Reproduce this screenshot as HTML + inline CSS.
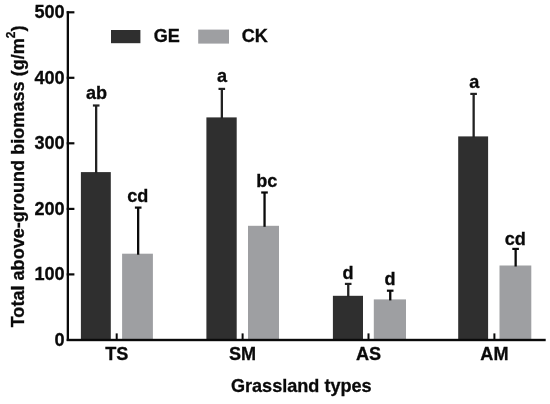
<!DOCTYPE html>
<html lang="en"><head><meta charset="utf-8"><title>Total above-ground biomass by grassland type</title>
<style>
html,body{margin:0;padding:0;background:#fff;}
body{width:550px;height:404px;overflow:hidden;}
svg{display:block;}
text{font-family:"Liberation Sans",Arial,Helvetica,sans-serif;font-weight:bold;fill:#0a0a0a;stroke:#0a0a0a;stroke-width:0.3px;}
</style></head><body>
<svg width="550" height="404" viewBox="0 0 550 404">
<rect x="0" y="0" width="550" height="404" fill="#ffffff"/>
<rect x="80.9" y="172.1" width="29.9" height="167.8" fill="#2f2f2f"/>
<rect x="95.0" y="105.5" width="2.3" height="67.6" fill="#222222"/>
<rect x="92.9" y="104.4" width="6.6" height="2.2" fill="#222222"/>
<text x="96.6" y="99.1" font-size="18.1" text-anchor="middle">ab</text>
<rect x="122.1" y="253.7" width="30.8" height="86.2" fill="#9e9fa2"/>
<rect x="137.0" y="207.6" width="2.3" height="47.1" fill="#0a0a0a"/>
<rect x="134.9" y="206.5" width="6.6" height="2.2" fill="#0a0a0a"/>
<text x="137.8" y="202.3" font-size="18.1" text-anchor="middle">cd</text>
<rect x="206.4" y="117.4" width="30.3" height="222.5" fill="#2f2f2f"/>
<rect x="220.7" y="88.9" width="2.3" height="29.5" fill="#222222"/>
<rect x="218.5" y="87.8" width="6.6" height="2.2" fill="#222222"/>
<text x="222.0" y="81.8" font-size="18.1" text-anchor="middle">a</text>
<rect x="248.0" y="225.8" width="31.0" height="114.1" fill="#9e9fa2"/>
<rect x="263.4" y="192.5" width="2.3" height="34.3" fill="#0a0a0a"/>
<rect x="261.2" y="191.4" width="6.6" height="2.2" fill="#0a0a0a"/>
<text x="266.7" y="186.6" font-size="18.1" text-anchor="middle">bc</text>
<rect x="332.9" y="295.8" width="30.1" height="44.1" fill="#2f2f2f"/>
<rect x="347.1" y="283.9" width="2.3" height="12.9" fill="#222222"/>
<rect x="344.9" y="282.8" width="6.6" height="2.2" fill="#222222"/>
<text x="348.0" y="278.5" font-size="18.1" text-anchor="middle">d</text>
<rect x="373.8" y="299.4" width="32.2" height="40.5" fill="#9e9fa2"/>
<rect x="389.1" y="290.7" width="2.3" height="9.7" fill="#0a0a0a"/>
<rect x="386.9" y="289.6" width="6.6" height="2.2" fill="#0a0a0a"/>
<text x="390.0" y="285.3" font-size="18.1" text-anchor="middle">d</text>
<rect x="458.2" y="136.4" width="29.9" height="203.5" fill="#2f2f2f"/>
<rect x="472.5" y="93.9" width="2.3" height="43.5" fill="#222222"/>
<rect x="470.3" y="92.8" width="6.6" height="2.2" fill="#222222"/>
<text x="474.3" y="87.5" font-size="18.1" text-anchor="middle">a</text>
<rect x="499.5" y="265.5" width="31.8" height="74.4" fill="#9e9fa2"/>
<rect x="514.5" y="248.9" width="2.3" height="17.6" fill="#0a0a0a"/>
<rect x="512.3" y="247.8" width="6.6" height="2.2" fill="#0a0a0a"/>
<text x="515.2" y="244.6" font-size="18.1" text-anchor="middle">cd</text>
<rect x="66.7" y="11.2" width="2.3" height="329.8" fill="#0a0a0a"/>
<rect x="66.7" y="338.8" width="479.0" height="2.4" fill="#0a0a0a"/>
<rect x="66.7" y="273.3" width="7.7" height="2.2" fill="#0a0a0a"/>
<rect x="66.7" y="207.8" width="7.7" height="2.2" fill="#0a0a0a"/>
<rect x="66.7" y="142.2" width="7.7" height="2.2" fill="#0a0a0a"/>
<rect x="66.7" y="76.7" width="7.7" height="2.2" fill="#0a0a0a"/>
<rect x="66.7" y="11.2" width="7.7" height="2.2" fill="#0a0a0a"/>
<text x="64.6" y="345.6" font-size="18.1" text-anchor="end">0</text>
<text x="64.6" y="280.1" font-size="18.1" text-anchor="end">100</text>
<text x="64.6" y="214.6" font-size="18.1" text-anchor="end">200</text>
<text x="64.6" y="149.0" font-size="18.1" text-anchor="end">300</text>
<text x="64.6" y="83.5" font-size="18.1" text-anchor="end">400</text>
<text x="64.6" y="18.0" font-size="18.1" text-anchor="end">500</text>
<rect x="115.7" y="333.4" width="2" height="6" fill="#0a0a0a"/>
<text x="116.7" y="359.5" font-size="18.1" text-anchor="middle">TS</text>
<rect x="241.6" y="333.4" width="2" height="6" fill="#0a0a0a"/>
<text x="242.6" y="359.5" font-size="18.1" text-anchor="middle">SM</text>
<rect x="367.5" y="333.4" width="2" height="6" fill="#0a0a0a"/>
<text x="368.5" y="359.5" font-size="18.1" text-anchor="middle">AS</text>
<rect x="493.4" y="333.4" width="2" height="6" fill="#0a0a0a"/>
<text x="494.4" y="359.5" font-size="18.1" text-anchor="middle">AM</text>
<text x="301.3" y="392.4" font-size="18.1" text-anchor="middle">Grassland types</text>
<text transform="translate(23.8 176.4) rotate(-90)" font-size="18.1" text-anchor="middle">Total above-ground biomass (g/m<tspan dy="-8.6" font-size="12">2</tspan><tspan dy="8.6">)</tspan></text>
<rect x="111" y="30" width="29.4" height="13.2" fill="#2f2f2f"/>
<text x="153.8" y="42.2" font-size="18.1">GE</text>
<rect x="198.2" y="29.6" width="30.8" height="14" fill="#9e9fa2"/>
<text x="241.8" y="42.2" font-size="18.1">CK</text>
</svg></body></html>
